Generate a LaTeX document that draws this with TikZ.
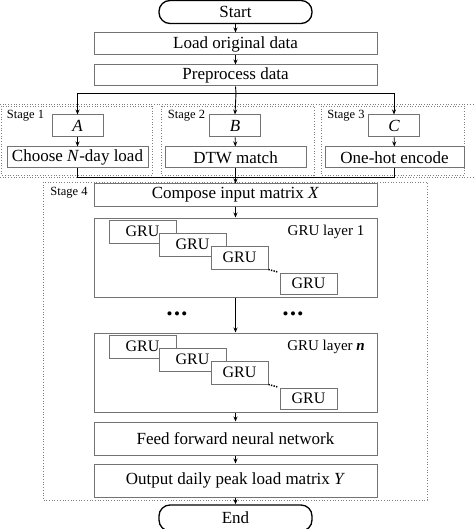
\documentclass[tikz,border=0pt]{standalone}
\usepackage{fontspec}
\setmainfont{Liberation Serif}
\usepackage{tikz}
\usetikzlibrary{arrows.meta}
\definecolor{boxgray}{rgb}{0.45,0.45,0.45}
\definecolor{dotgray}{rgb}{0.5,0.5,0.5}
\begin{document}
\begin{tikzpicture}[x=1pt,y=-1pt,
	txt/.style={font=\fontsize{17}{19}\selectfont},
	procbox/.style={draw=boxgray,line width=1pt,fill=white,inner sep=0pt,txt},
	termbox/.style={draw=black,line width=1.3pt,rounded corners=11pt,inner sep=0pt,minimum width=153pt,txt},
	grubox/.style={draw=boxgray,line width=1pt,fill=white,inner sep=0pt,font=\fontsize{16}{18}\selectfont},
	stagebox/.style={draw=dotgray,dotted,line width=0.7pt},
	stagelbl/.style={inner sep=0pt,font=\fontsize{12.5}{14}\selectfont},
	flow/.style={-{Stealth[length=5pt,width=4pt]},line width=0.9pt},
	link/.style={line width=0.9pt}]
			\useasboundingbox (0.,0.) rectangle (474.,529.);
			\draw [stagebox] (0.,104.)-- (474.,104.);
			\draw [stagebox] (0.,177.)-- (474.,177.);
			\draw [stagebox] (1.,106.) rectangle (152.,175.);
			\draw [stagebox] (161.,106.) rectangle (314.,175.);
			\draw [stagebox] (321.,106.) rectangle (464.,175.);
			\draw [stagebox] (43.,182.) rectangle (427.,500.);
			\node [stagelbl] (st1) at (25.5,116.) {Stage 1};
			\node [stagelbl] (st2) at (186.5,116.) {Stage 2};
			\node [stagelbl] (st3) at (346.,116.) {Stage 3};
			\node [stagelbl] (st4) at (69.,193.) {Stage 4};
			\node [termbox,minimum height=23pt] (start) at (235.5,12.) {Start};
			\node [procbox,minimum width=283pt,minimum height=22pt] (load) at (235.5,44.) {Load original data};
			\node [procbox,minimum width=283pt,minimum height=21pt] (prep) at (235.5,75.5) {Preprocess data};
			\node [procbox,minimum width=51pt,minimum height=22pt] (A) at (77.5,126.) {\textit{A}};
			\node [procbox,minimum width=51pt,minimum height=22pt] (B) at (235.,126.) {\textit{B}};
			\node [procbox,minimum width=51pt,minimum height=22pt] (C) at (394.,126.) {\textit{C}};
			\node [procbox,minimum width=141pt,minimum height=21pt] (choose) at (77.5,157.5) {Choose \textit{N}-day load};
			\node [procbox,minimum width=141pt,minimum height=21pt] (dtw) at (235.5,157.5) {DTW match};
			\node [procbox,minimum width=139pt,minimum height=21pt] (onehot) at (394.5,157.5) {One-hot encode};
			\node [procbox,minimum width=283pt,minimum height=22pt] (compose) at (235.5,195.) {Compose input matrix \textit{X}};
			\node [procbox,minimum width=283pt,minimum height=79pt] (layer1) at (235.5,257.5) {};
			\node [procbox,minimum width=283pt,minimum height=79pt] (layern) at (235.5,372.5) {};
			\foreach \ly/\id in {218./1,333./n}
			{
			\node [grubox,minimum width=67pt,minimum height=23pt] (gru\id a) at (142.5,\ly+13.5) {GRU};
			\node [grubox,minimum width=67pt,minimum height=23pt] (gru\id b) at (192.5,\ly+26.5) {GRU};
			\node [grubox,minimum width=57pt,minimum height=23pt] (gru\id c) at (239.5,\ly+39.5) {GRU};
			\node [grubox,minimum width=57pt,minimum height=21pt] (gru\id d) at (308.5,\ly+65.5) {GRU};
			\draw [black,line width=1.5pt,dash pattern=on 1.3pt off 1.3pt,shorten >=2pt] (gru\id c.south east)-- (gru\id d.north west);
			}
			\node [font=\fontsize{15}{17}\selectfont] (lbl1) at (326.,232.) {GRU layer 1};
			\node [font=\fontsize{15}{17}\selectfont] (lbln) at (326.,347.) {GRU layer \textit{\textbf{n}}};
			\node [txt] (dotsl) at (177.,316.) {\textbullet\hspace{1.5pt}\textbullet\hspace{1.5pt}\textbullet};
			\node [txt] (dotsr) at (293.,316.) {\textbullet\hspace{1.5pt}\textbullet\hspace{1.5pt}\textbullet};
			\node [procbox,minimum width=283pt,minimum height=33pt] (ffnn) at (235.5,438.5) {Feed forward neural network};
			\node [procbox,minimum width=283pt,minimum height=33pt] (output) at (235.5,480.5) {Output daily peak load matrix \textit{Y}};
			\node [termbox,minimum height=26pt] (end) at (235.5,518.) {End};
			\coordinate (split) at (236.,93.);
			\coordinate (merge) at (236.,177.);
			\draw [flow] (start)-- (load);
			\draw [flow] (load)-- (prep);
			\draw [link] (prep.south)-- (split);
			\draw [flow] (split)-| (A.north);
			\draw [flow] (split)-- (B.north);
			\draw [flow] (split)-| (C.north);
			\draw [flow] (A)-- (choose);
			\draw [flow] (B)-- (dtw);
			\draw [flow] (C)-- (onehot);
			\draw [link] (choose.south) |- (merge);
			\draw [link] (onehot.south) |- (merge);
			\draw [flow] (dtw.south)-- (compose.north);
			\draw [flow] (compose)-- (layer1);
			\draw [flow] (layer1)-- (layern);
			\draw [flow] (layern)-- (ffnn);
			\draw [flow] (ffnn)-- (output);
			\draw [flow] (output)-- (end);
\end{tikzpicture}
\end{document}
